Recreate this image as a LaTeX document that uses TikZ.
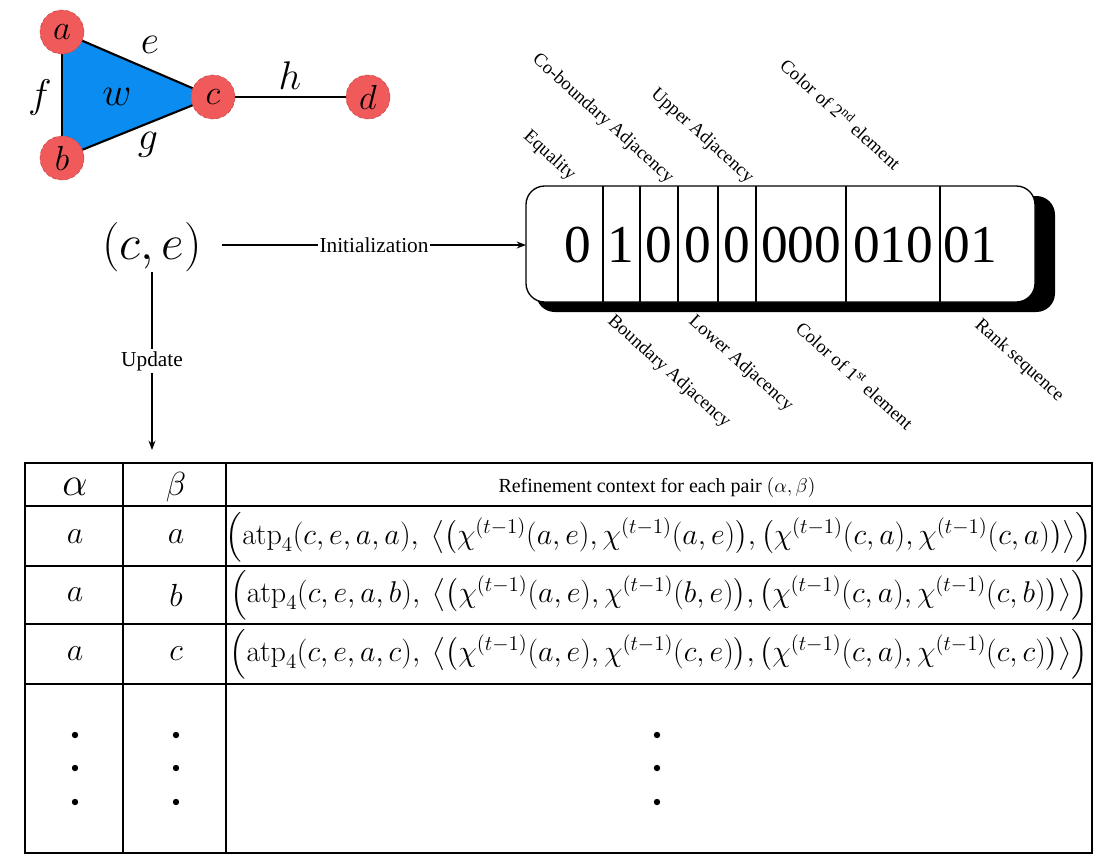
\documentclass[tikz,border=0pt]{standalone}
\usepackage{fix-cm}
\usepackage{amsmath}
\usepackage[no-math]{fontspec}
\setmainfont{Liberation Serif}
\usetikzlibrary{arrows.meta}
\definecolor{vred}{HTML}{F05A5A}
\definecolor{tblue}{HTML}{0A8CF0}
\tikzset{
  vert/.style={circle,fill=vred,draw=vred!80!black,densely dashed,inner sep=0pt,minimum size=33pt,font=\fontsize{26}{26}\selectfont},
  elab/.style={font=\fontsize{30}{30}\selectfont},
  slab/.style={font=\fontsize{14}{14}\selectfont,inner sep=1pt},
  bit/.style={font=\fontsize{40}{40}\selectfont},
  cell/.style={font=\fontsize{24}{24}\selectfont},
  ctx/.style={font=\fontsize{22.5}{22.5}\selectfont},
  arr/.style={-{Stealth[length=7pt]},line width=1pt}
}
\begin{document}
\begin{tikzpicture}[x=0.75pt,y=-0.75pt]
\useasboundingbox (0,0) rectangle (1096,857);
% simplicial complex
\coordinate (pa) at (62,32);
\coordinate (pb) at (62,158);
\coordinate (pc) at (213,97);
\fill[tblue] (pa) -- (pc) -- (pb) -- cycle;
\draw[line width=1.6pt] (pa) -- (pc) -- (pb);
\draw[line width=0.8pt] (pa) -- (pb);
\node[vert] (a) at (pa) {$a$};
\node[vert] (b) at (pb) {$b$};
\node[vert] (c) at (pc) {$c$};
\node[vert] (d) at (368,97) {$d$};
\draw[line width=1pt] (c) -- (d);
\node[elab] (le) at (150,45) {$e$};
\node[elab] (lf) at (40,97) {$f$};
\node[elab] (lw) at (117,97) {$w$};
\node[elab] (lg) at (148,145) {$g$};
\node[elab] (lh) at (290,76) {$h$};
% pair and encoding
\node[font=\fontsize{37}{37}\selectfont] (ce) at (152,247) {$(c,e)$};
\fill (536,196) [rounded corners=14pt] rectangle (1055,312);
\draw[line width=1pt,fill=white,rounded corners=14pt] (526,186) rectangle (1035,302);
\coordinate (bx) at (526,245);
\foreach \x in {603,640,678,718,756,846,940}
  \draw[line width=0.9pt] (\x,186) -- (\x,302);
\node[bit] (b1) at (578,245) {0};
\node[bit] (b2) at (621,245) {1};
\node[bit] (b3) at (659,245) {0};
\node[bit] (b4) at (698,245) {0};
\node[bit] (b5) at (737,245) {0};
\node[bit] (b6) at (801,245) {000};
\node[bit] (b7) at (893,245) {010};
\node[bit] (b8) at (970,245) {01};
\coordinate (ie) at (222,245);
\draw[arr] (ie) -- node[fill=white,font=\fontsize{16}{16}\selectfont,inner sep=1pt] (init) {Initialization} (bx);
% feature labels
\node[slab,rotate=-42,anchor=east] (t1) at (574,178) {Equality};
\node[slab,rotate=-42,anchor=east] (t2) at (672,181) {Co-boundary Adjacency};
\node[slab,rotate=-42,anchor=east] (t3) at (752,181) {Upper Adjacency};
\node[slab,rotate=-42,anchor=east] (t4) at (900,166) {Color of 2\textsuperscript{nd} element};
\node[slab,rotate=-42,anchor=west] (u1) at (609,318) {Boundary Adjacency};
\node[slab,rotate=-42,anchor=west] (u2) at (690,318) {Lower Adjacency};
\node[slab,rotate=-42,anchor=west] (u3) at (798,324) {Color of 1\textsuperscript{st} element};
\node[slab,rotate=-42,anchor=west] (u4) at (976,322) {Rank sequence};
% update arrow
\coordinate (us) at (152,272);
\coordinate (tt) at (152,450);
\draw[arr] (us) -- node[fill=white,font=\fontsize{16}{16}\selectfont,inner sep=2pt] (upd) {Update} (tt);
% table
\draw[line width=1pt] (25,463) rectangle (1092,853);
\foreach \y in {506,566,624,684} \draw[line width=1pt] (25,\y) -- (1092,\y);
\draw[line width=1pt] (123,463) -- (123,853) (226,463) -- (226,853);
\node[font=\fontsize{30}{30}\selectfont] (h1) at (75,487) {$\alpha$};
\node[font=\fontsize{25}{25}\selectfont] (h2) at (176,487) {$\beta$};
\node[font=\fontsize{15}{15}\selectfont] (h3) at (657,487) {Refinement context for each pair $(\alpha,\beta)$};
\foreach \y/\p/\q in {537/a/a,595/a/b,654/a/c}{
  \node[cell] at (75,\y) {$\p$};
  \node[cell] at (176,\y) {$\q$};
  \node[ctx] at (659,\y) {$\Bigl(\mathrm{atp}_4(c,e,a,\q),\ \bigl\langle\bigl(\chi^{(t-1)}(a,e),\chi^{(t-1)}(\q,e)\bigr),\bigl(\chi^{(t-1)}(c,a),\chi^{(t-1)}(c,\q)\bigr)\bigr\rangle\Bigr)$};
}
\foreach \x in {75,176,657}
  \foreach \y in {735,768,802}
    \fill (\x,\y) circle (3.2);
\end{tikzpicture}
\end{document}
